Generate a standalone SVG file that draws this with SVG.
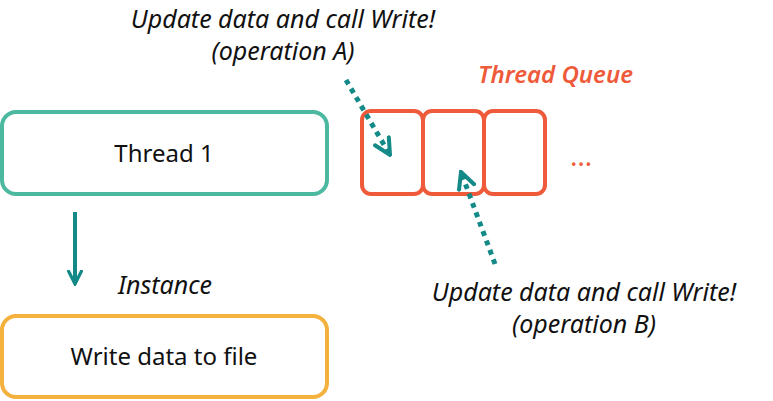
<svg xmlns="http://www.w3.org/2000/svg" width="773" height="401" viewBox="0 0 773 401">
<style>
text{font-family:"Noto Sans","Liberation Sans",sans-serif;font-size:24px;fill:#111}
.it{font-style:italic;font-size:25px}
.q{fill:none;stroke:#EE5A3A;stroke-width:4}
.dot{stroke:#138A87;stroke-width:5;stroke-dasharray:5 5;fill:none}
</style>
<defs>
<marker id="ah" viewBox="0 0 10 10" refX="9" refY="5" markerWidth="4" markerHeight="4" orient="auto" markerUnits="strokeWidth">
<path d="M1,1 L9,5 L1,9" fill="none" stroke="#138A87" stroke-width="2" stroke-linecap="round"/>
</marker>
</defs>
<rect width="773" height="401" fill="#fff"/>
<g id="thread1"><rect x="2" y="112" width="325" height="82" rx="14" fill="none" stroke="#4DB8A0" stroke-width="4"/><text x="164" y="162" text-anchor="middle">Thread 1</text></g>
<g id="write"><rect x="2" y="316" width="325" height="81" rx="14" fill="none" stroke="#F4B13D" stroke-width="4"/><text x="164" y="365" text-anchor="middle">Write data to file</text></g>
<g id="queue">
<rect class="q" x="362" y="111" width="61" height="83" rx="9"/>
<rect class="q" x="423" y="111" width="61" height="83" rx="9"/>
<rect class="q" x="484" y="111" width="61" height="83" rx="9"/>
<text x="478" y="83" class="it" style="fill:#EE5A3A;font-weight:600;font-size:24px">Thread Queue</text>
<text x="570" y="166" style="fill:#EE5A3A;font-size:28px">…</text>
</g>
<g id="labels">
<text x="283" y="28" class="it" text-anchor="middle">Update data and call Write!</text>
<text x="283" y="60" class="it" text-anchor="middle">(operation A)</text>
<text x="584" y="301" class="it" text-anchor="middle">Update data and call Write!</text>
<text x="584" y="333" class="it" text-anchor="middle">(operation B)</text>
<text x="165" y="294" class="it" text-anchor="middle">Instance</text>
</g>
<g id="connectors">
<line x1="75" y1="212" x2="75" y2="284" stroke="#138A87" stroke-width="4" marker-end="url(#ah)"/>
<line class="dot" x1="346" y1="80" x2="390" y2="155" marker-end="url(#ah)"/>
<line class="dot" x1="495" y1="264" x2="461" y2="172" marker-end="url(#ah)"/>
</g>
</svg>
